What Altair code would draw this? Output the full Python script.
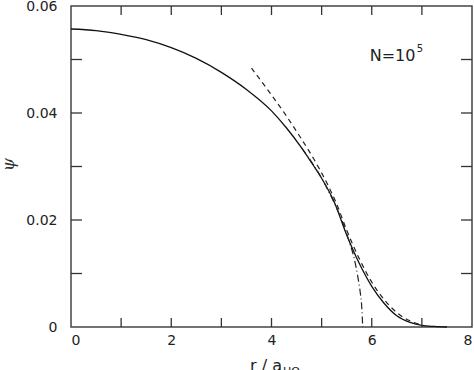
import altair as alt
import pandas as pd

# Solid curve (full solution)
solid_r = [0, 0.5, 1.0, 1.5, 2.0, 2.5, 3.0, 3.5, 4.0, 4.3, 4.6, 4.85, 5.0, 5.25, 5.5,
           5.75, 6.0, 6.25, 6.5, 6.75, 7.0, 7.25, 7.5]
solid_psi = [0.0557, 0.0554, 0.0547, 0.0537, 0.0522, 0.0502, 0.0476, 0.0444, 0.0404,
             0.0372, 0.0335, 0.0300, 0.0278, 0.0234, 0.0172, 0.0119, 0.0076, 0.0044,
             0.0021, 0.0009, 0.0003, 0.0001, 0.0]

# Dashed curve (asymptotic)
dash_r = [3.6, 3.95, 4.3, 4.6, 4.85, 5.1, 5.3, 5.5, 5.75, 6.0, 6.25, 6.5, 6.75, 7.0]
dash_psi = [0.0484, 0.0440, 0.0394, 0.0351, 0.0313, 0.0270, 0.0230, 0.0181, 0.0128,
            0.0084, 0.0051, 0.0027, 0.0012, 0.0004]

# Dash-dot curve (Thomas-Fermi)
tf_r = [4.6, 5.0, 5.2, 5.4, 5.55, 5.65, 5.72, 5.77, 5.8, 5.82]
tf_psi = [0.0335, 0.0278, 0.0242, 0.0200, 0.0160, 0.0128, 0.0095, 0.0065, 0.0038, 0.0]

x_ticks = [1, 2, 3, 4, 5, 6, 7]
y_ticks = [0.01, 0.02, 0.03, 0.04, 0.05]

W, H = 401, 321

xs = alt.Scale(domain=[0, 8], nice=False, zero=False)
ys = alt.Scale(domain=[0, 0.06], nice=False, zero=False)

LF = "DejaVu Sans"
ax_x = alt.Axis(values=[0, 2, 4, 6, 8], format="d", tickSize=0, domain=False, grid=False,
                labelFont=LF, labelFontSize=14, labelColor="#222",
                labelPadding=6, title=None)
ax_y = alt.Axis(values=[0, 0.02, 0.04, 0.06], tickSize=0, domain=False, grid=False,
                labelExpr="datum.value == 0 ? '0' : format(datum.value, '.2f')",
                labelFont=LF, labelFontSize=14, labelColor="#222",
                labelPadding=14, title="ψ", titleFont="DejaVu Serif", titleFontStyle="italic",
                titleFontWeight="normal", titleFontSize=17, titleColor="#333",
                titleX=-54, titleY=158, titleAngle=-90)

df_s = pd.DataFrame({"r": solid_r, "psi": solid_psi})
df_d = pd.DataFrame({"r": dash_r, "psi": dash_psi})
df_t = pd.DataFrame({"r": tf_r, "psi": tf_psi})

solid = alt.Chart(df_s).mark_line(color="#111", strokeWidth=1.3, interpolate="monotone").encode(
    x=alt.X("r:Q", scale=xs, axis=ax_x),
    y=alt.Y("psi:Q", scale=ys, axis=ax_y),
    order="r:Q",
)
dashed = alt.Chart(df_d).mark_line(color="#222", strokeWidth=1.2, strokeDash=[5, 4],
                                   interpolate="monotone").encode(
    x=alt.X("r:Q", scale=xs), y=alt.Y("psi:Q", scale=ys), order="r:Q")
dashdot = alt.Chart(df_t).mark_line(color="#222", strokeWidth=1.2, strokeDash=[7, 3, 1, 3],
                                    interpolate="monotone").encode(
    x=alt.X("r:Q", scale=xs), y=alt.Y("psi:Q", scale=ys), order="r:Q")

df_xt = pd.DataFrame({"t": x_ticks})
df_yt = pd.DataFrame({"t": y_ticks})
tick_col = "#333"
tb = alt.Chart(df_xt).mark_rule(color=tick_col, strokeWidth=1.3).encode(
    x=alt.X("t:Q", scale=xs), y=alt.value(H), y2=alt.value(H - 9))
tt = alt.Chart(df_xt).mark_rule(color=tick_col, strokeWidth=1.3).encode(
    x=alt.X("t:Q", scale=xs), y=alt.value(0), y2=alt.value(9))
tl = alt.Chart(df_yt).mark_rule(color=tick_col, strokeWidth=1.3).encode(
    y=alt.Y("t:Q", scale=ys), x=alt.value(0), x2=alt.value(11))
tr = alt.Chart(df_yt).mark_rule(color=tick_col, strokeWidth=1.3).encode(
    y=alt.Y("t:Q", scale=ys), x=alt.value(W), x2=alt.value(W - 11))

lab = alt.Chart(pd.DataFrame({"r": [5.96], "psi": [0.0506], "t": ["N=10"]})).mark_text(
    font=LF, fontSize=16, color="#222", align="left", baseline="middle").encode(
    x=alt.X("r:Q", scale=xs), y=alt.Y("psi:Q", scale=ys), text="t:N")
sup = alt.Chart(pd.DataFrame({"r": [6.9], "psi": [0.0519], "t": ["5"]})).mark_text(
    font=LF, fontSize=10, color="#222", align="left", baseline="middle").encode(
    x=alt.X("r:Q", scale=xs), y=alt.Y("psi:Q", scale=ys), text="t:N")

xt1 = alt.Chart(pd.DataFrame({"t": ["r / a"]})).mark_text(
    font=LF, fontSize=16, color="#222", align="right", baseline="alphabetic").encode(
    x=alt.value(211), y=alt.value(H + 44), text="t:N")
xt2 = alt.Chart(pd.DataFrame({"t": ["HO"]})).mark_text(
    font=LF, fontSize=11, color="#222", align="left", baseline="alphabetic").encode(
    x=alt.value(212), y=alt.value(H + 48), text="t:N")

chart = alt.layer(solid, dashed, dashdot, tb, tt, tl, tr, lab, sup, xt1, xt2).properties(
    width=W, height=H,
    autosize=alt.AutoSizeParams(type="none"),
    padding={"left": 71, "top": 6, "right": 2, "bottom": 43},
    background="white",
).configure_view(stroke="#444", strokeWidth=1.5)

chart.save("out.html", embed_options={"renderer": "svg", "actions": False})
